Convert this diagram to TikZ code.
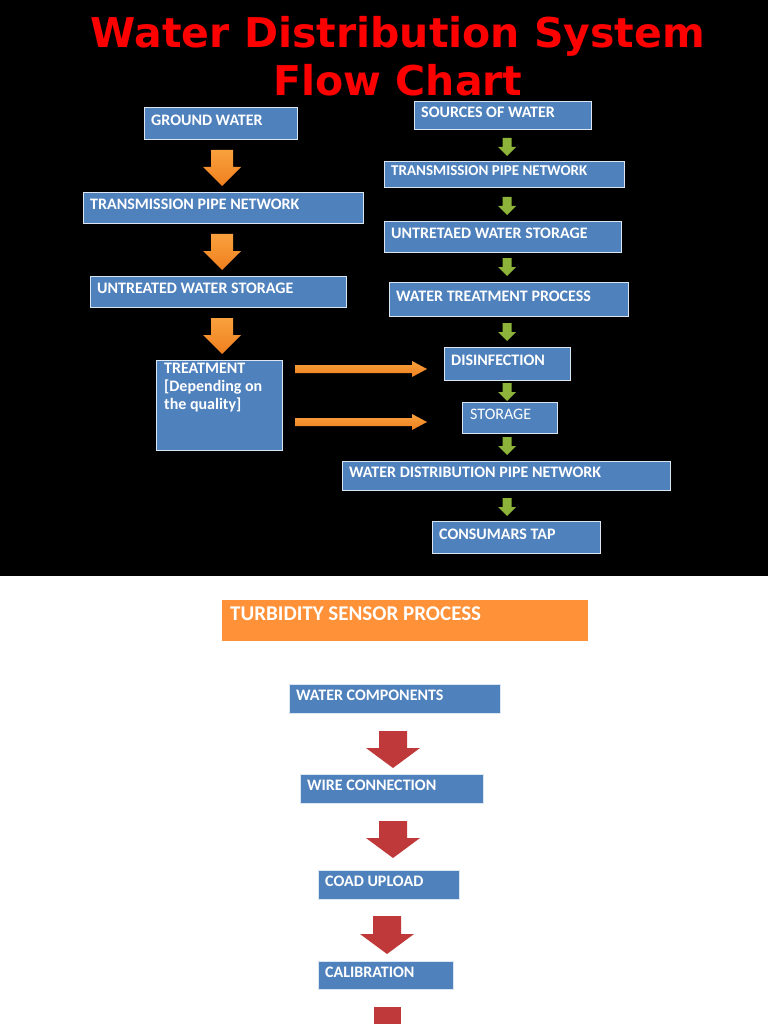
\documentclass[tikz,border=0pt]{standalone}
\usepackage{fontspec}
\setmainfont{Carlito}
\newfontfamily\titlefont{DejaVu Sans}
\begin{document}
\begin{tikzpicture}[x=1pt,y=-1pt,
  box/.style={fill=boxblue, draw=white!80!boxblue, line width=0.8pt, anchor=north west, inner sep=0pt},
  txt/.style={anchor=west, text=white, font=\fontsize{16}{18}\selectfont\bfseries, inner sep=0pt}]
\definecolor{boxblue}{HTML}{4F81BD}
\definecolor{oran}{HTML}{F07F1E}
\definecolor{oranL}{HTML}{F9A13E}
\definecolor{grn}{HTML}{8DB33A}
\definecolor{redA}{HTML}{C0393A}
\definecolor{tsorange}{HTML}{FF9138}
\useasboundingbox (0,0) rectangle (768,1024);
\fill[black] (0,0) rectangle (768,576);
\fill[white] (0,576) rectangle (768,1024);
\node[text=red, font=\titlefont\bfseries\fontsize{41}{48}\selectfont, align=center] (title) at (398,56) {Water Distribution System\\Flow Chart};
% x1 y1 x2 y2 name text
\newcommand\mybox[6]{\path[box] (#1,#2) rectangle (#3,#4); \node[txt] (#5) at (#1+7,{(#2+#4)/2-3}) {#6};}
\newcommand\varrow[7]{% xc ytop ybot shaftw headw headlen color
  \fill[#7] ({#1-#4/2},#2) -- ({#1+#4/2},#2) -- ({#1+#4/2},{#3-#6}) -- ({#1+#5/2},{#3-#6}) -- (#1,#3) -- ({#1-#5/2},{#3-#6}) -- ({#1-#4/2},{#3-#6}) -- cycle;}
% left column
\mybox{144}{107}{297}{139}{gw}{GROUND WATER}
\mybox{83}{192}{363}{223}{tpn1}{TRANSMISSION PIPE NETWORK}
\mybox{90}{276}{346}{307}{uws1}{UNTREATED WATER STORAGE}
\path[box] (156,360) rectangle (282,450);
\node[txt, anchor=north west, align=left] (treat) at (164,363) {TREATMENT\\{}[Depending on\\the quality]};
\newcommand\oarrow[2]{\shade[top color=oranL, bottom color=oran] ({#1-11},#2) -- ({#1+11},#2) -- ({#1+11},#2+17) -- ({#1+19},#2+17) -- (#1,#2+36) -- ({#1-19},#2+17) -- ({#1-11},#2+17) -- cycle;}
\oarrow{222}{150}
\oarrow{222}{234}
\oarrow{222}{318}
\newcommand\harrow[1]{\shade[top color=oranL, bottom color=oran] (295,#1-4) -- (412,#1-4) -- (412,#1-8) -- (427,#1) -- (412,#1+8) -- (412,#1+4) -- (295,#1+4) -- cycle;}
\harrow{369}
\harrow{422}
% right column
\mybox{414}{101}{591}{129}{sw}{SOURCES OF WATER}
\mybox{384}{161}{624}{187}{tpn2}{\fontsize{15}{17}\selectfont TRANSMISSION PIPE NETWORK}
\mybox{384}{221}{621}{252}{uws2}{UNTRETAED WATER STORAGE}
\mybox{389}{282}{628}{316}{wtp}{WATER TREATMENT PROCESS}
\mybox{444}{347}{570}{380}{dis}{DISINFECTION}
\path[box] (462,402) rectangle (557,433); \node[txt, font=\fontsize{16}{18}\selectfont] (sto) at (470,414) {STORAGE};
\mybox{342}{461}{670}{490}{wdpn}{WATER DISTRIBUTION PIPE NETWORK}
\mybox{432}{521}{600}{553}{tap}{CONSUMARS TAP}
\foreach \y in {138,197,258,323,383,437,498} {\varrow{507}{\y}{\y+18}{9}{18}{9}{grn}}
% bottom
\fill[tsorange] (222,600) rectangle (588,641);
\node[txt, font=\fontsize{21}{24}\selectfont\bfseries] (tsp) at (230,614) {TURBIDITY SENSOR PROCESS};
\mybox{289}{684}{500}{713}{wc}{WATER COMPONENTS}
\mybox{300}{774}{483}{803}{wire}{WIRE CONNECTION}
\mybox{318}{870}{459}{899}{coad}{COAD UPLOAD}
\mybox{318}{961}{453}{989}{cal}{CALIBRATION}
\varrow{393}{731}{768}{28}{54}{20}{redA}
\varrow{393}{821}{858}{28}{54}{20}{redA}
\varrow{387}{916}{954}{28}{54}{20}{redA}
\fill[redA] (374,1007) rectangle (401,1024);
\end{tikzpicture}
\end{document}
